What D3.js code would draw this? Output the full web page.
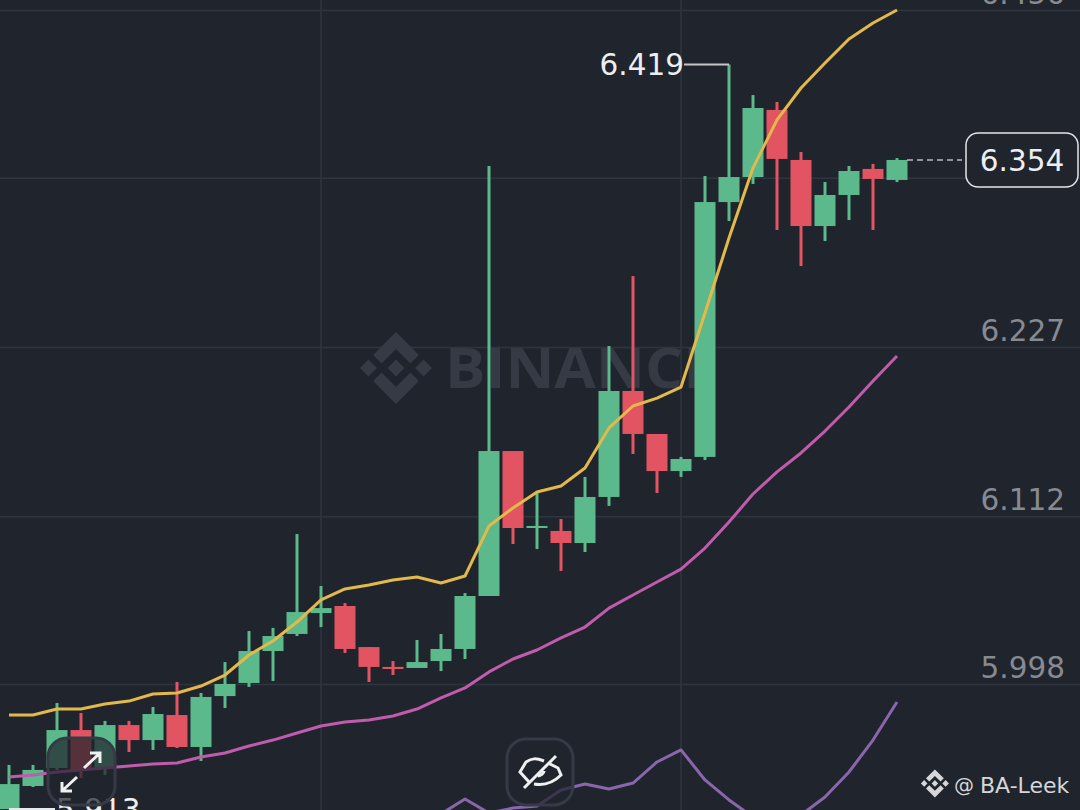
<!DOCTYPE html>
<html>
<head>
<meta charset="utf-8">
<script src="https://cdn.jsdelivr.net/npm/d3@7"></script>
<style>
  html, body { margin: 0; padding: 0; background: #20242c; overflow: hidden; }
  text { font-family: "DejaVu Sans", sans-serif; }
</style>
</head>
<body>
<div id="chart"></div>
<script>
const svgWidth = 1080;
const svgHeight = 810;

// candles, oldest first
const openPrices = [5.9130, 5.9287, 5.9409, 5.9667, 5.9409, 5.9701, 5.9599, 5.9769, 5.9552, 5.9898, 5.9987, 6.0204, 6.0320, 6.0462, 6.0510, 6.0231, 6.0096, 6.0089, 6.0136, 6.0218, 6.0578, 6.1563, 6.1040, 6.1020, 6.0938, 6.1251, 6.1971, 6.1679, 6.1427, 6.1523, 6.3255, 6.3425, 6.3881, 6.3541, 6.3092, 6.3303, 6.3480, 6.3405];
const highPrices = [5.9430, 5.9430, 5.9851, 5.9783, 5.9729, 5.9729, 5.9824, 5.9994, 5.9919, 6.0129, 6.0340, 6.0361, 6.0999, 6.0646, 6.0530, 6.0231, 6.0136, 6.0279, 6.0320, 6.0598, 6.3500, 6.1563, 6.1278, 6.1101, 6.1387, 6.2277, 6.2752, 6.1679, 6.1523, 6.3432, 6.4190, 6.3982, 6.3935, 6.3595, 6.3391, 6.3500, 6.3514, 6.3554];
const lowPrices = [5.9130, 5.9280, 5.9396, 5.9341, 5.9362, 5.9518, 5.9532, 5.9545, 5.9457, 5.9817, 5.9960, 6.0000, 6.0306, 6.0367, 6.0191, 5.9994, 6.0041, 6.0089, 6.0068, 6.0150, 6.0578, 6.0931, 6.0897, 6.0748, 6.0877, 6.1190, 6.1543, 6.1278, 6.1387, 6.1502, 6.3126, 6.3378, 6.3065, 6.2820, 6.2990, 6.3133, 6.3065, 6.3391];
const closePrices = [5.9300, 5.9396, 5.9667, 5.9396, 5.9701, 5.9599, 5.9776, 5.9552, 5.9892, 5.9980, 6.0204, 6.0306, 6.0469, 6.0496, 6.0218, 6.0096, 6.0082, 6.0129, 6.0218, 6.0578, 6.1563, 6.1040, 6.1054, 6.0938, 6.1251, 6.1971, 6.1679, 6.1427, 6.1509, 6.3255, 6.3425, 6.3894, 6.3548, 6.3092, 6.3303, 6.3466, 6.3412, 6.3541];

// moving averages, same length as the candles
const maYellow = [5.9769, 5.9769, 5.9810, 5.9810, 5.9844, 5.9864, 5.9912, 5.9919, 5.9966, 6.0041, 6.0177, 6.0272, 6.0401, 6.0551, 6.0626, 6.0653, 6.0687, 6.0707, 6.0666, 6.0714, 6.1054, 6.1176, 6.1285, 6.1325, 6.1448, 6.1720, 6.1869, 6.1923, 6.1998, 6.2501, 6.3011, 6.3486, 6.3813, 6.4030, 6.4200, 6.4363, 6.4472, 6.4560];
const maPink = [5.9348, 5.9362, 5.9382, 5.9396, 5.9409, 5.9423, 5.9436, 5.9443, 5.9484, 5.9511, 5.9559, 5.9599, 5.9647, 5.9695, 5.9722, 5.9735, 5.9763, 5.9810, 5.9885, 5.9953, 6.0062, 6.0150, 6.0211, 6.0293, 6.0367, 6.0496, 6.0585, 6.0673, 6.0761, 6.0904, 6.1081, 6.1271, 6.1421, 6.1550, 6.1699, 6.1862, 6.2039, 6.2209];
// purple line only comes into view at candle 17
const maPurpleStart = 17;
const maPurple = [5.9001, 5.9097, 5.9199, 5.9103, 5.9137, 5.9151, 5.9260, 5.9300, 5.9267, 5.9307, 5.9450, 5.9532, 5.9328, 5.9192, 5.9076, 5.9022, 5.9090, 5.9212, 5.9382, 5.9599, 5.9858];

const priceTicks = [5.998, 6.112, 6.227, 6.342, 6.456];
const verticalGridIndex = [13, 28];

const peakIndex = 30;
const lowIndex = 0;
const lastPrice = 6.354;
const lastIndex = 37;

const colors = {
  bg: '#20242c',
  grid: '#30343f',
  axisText: '#868a92',
  green: '#5bb98b',
  red: '#e25462',
  yellow: '#e3b94c',
  pink: '#c05bae',
  purple: '#8a66ad',
  white: '#eceef0',
  mark: '#363a44',
};

const svg = d3.select('#chart').append('svg')
  .attr('width', svgWidth).attr('height', svgHeight)
  .style('display', 'block')
  .style('background', colors.bg);

const xScale = d3.scaleLinear().domain([0, 37]).range([9, 897]);
const yScale = d3.scaleLinear().domain([5.998, 6.456]).range([684, 10]);

const binancePath = 'M38.73 53.2L60 31.93L81.28 53.21L93.65 40.84L60 7.19L26.36 40.83Z' +
  'M7.19 60L19.56 47.63L31.93 60L19.56 72.37Z' +
  'M60 47.63L72.37 60L60 72.37L47.63 60Z' +
  'M88.07 60L100.44 47.63L112.81 60L100.44 72.37Z' +
  'M81.28 66.79L60 88.07L38.73 66.8L26.36 79.16L60 112.81L93.65 79.16Z';

// horizontal grid and price labels
const yAxis = d3.axisRight(yScale).tickValues(priceTicks).tickSize(svgWidth).tickFormat(d3.format('.3f'));
const axisG = svg.append('g').call(yAxis);
axisG.select('.domain').remove();
axisG.selectAll('line').attr('stroke', colors.grid).attr('stroke-width', 1.5);
axisG.selectAll('text')
  .attr('x', 1065)
  .attr('y', -7)
  .attr('dy', 0)
  .attr('text-anchor', 'end')
  .attr('fill', colors.axisText)
  .style('font-size', '29.5px')
  .style('font-family', '"DejaVu Sans", sans-serif');

svg.append('g').selectAll('line')
  .data(verticalGridIndex)
  .enter()
  .append('line')
  .attr('x1', d => xScale(d))
  .attr('x2', d => xScale(d))
  .attr('y1', 0)
  .attr('y2', svgHeight)
  .attr('stroke', colors.grid)
  .attr('stroke-width', 1.5);

// watermark
svg.append('path')
  .attr('d', binancePath)
  .attr('transform', 'translate(355.2,327.2) scale(0.68)')
  .attr('fill', colors.mark);
svg.append('text')
  .attr('x', 445)
  .attr('y', 388)
  .attr('fill', colors.mark)
  .attr('textLength', 272)
  .attr('lengthAdjust', 'spacingAndGlyphs')
  .style('font-size', '55px')
  .style('font-weight', 'bold')
  .style('font-family', '"Open Sans", sans-serif')
  .text('BINANCE');

// candles
const candleData = openPrices.map((o, i) => ({
  i: i, open: o, high: highPrices[i], low: lowPrices[i], close: closePrices[i],
}));
const candleColor = d => (d.close >= d.open ? colors.green : colors.red);
const candles = svg.append('g').selectAll('g').data(candleData).enter().append('g');

candles.append('line')
  .attr('x1', d => xScale(d.i))
  .attr('x2', d => xScale(d.i))
  .attr('y1', d => yScale(d.high))
  .attr('y2', d => yScale(d.low))
  .attr('stroke', candleColor)
  .attr('stroke-width', 3);

candles.append('rect')
  .attr('x', d => xScale(d.i) - 10.5)
  .attr('width', 21)
  .attr('y', d => yScale(Math.max(d.open, d.close)))
  .attr('height', d => Math.max(2, Math.abs(yScale(d.open) - yScale(d.close))))
  .attr('fill', candleColor);

// moving average lines
const maLine = d3.line().x(d => xScale(d.i)).y(d => yScale(d.v));
const toPoints = (values, start) => values.map((v, k) => ({ i: k + start, v: v }));

[
  { points: toPoints(maPurple, maPurpleStart), color: colors.purple },
  { points: toPoints(maPink, 0), color: colors.pink },
  { points: toPoints(maYellow, 0), color: colors.yellow },
].forEach(s => {
  svg.append('path')
    .attr('d', maLine(s.points))
    .attr('fill', 'none')
    .attr('stroke', s.color)
    .attr('stroke-width', 3)
    .attr('stroke-linejoin', 'round');
});

// peak label
svg.append('line')
  .attr('x1', 684)
  .attr('x2', xScale(peakIndex))
  .attr('y1', yScale(highPrices[peakIndex]))
  .attr('y2', yScale(highPrices[peakIndex]))
  .attr('stroke', '#c4c6ca')
  .attr('stroke-width', 2);
svg.append('text')
  .attr('x', 684)
  .attr('y', yScale(highPrices[peakIndex]) + 11)
  .attr('text-anchor', 'end')
  .attr('fill', colors.white)
  .style('font-size', '29.5px')
  .text('6.419');

// low label, mostly off the bottom of the picture
svg.append('line')
  .attr('x1', xScale(lowIndex))
  .attr('x2', 55)
  .attr('y1', yScale(lowPrices[lowIndex]))
  .attr('y2', yScale(lowPrices[lowIndex]))
  .attr('stroke', '#e8e9eb')
  .attr('stroke-width', 2);
svg.append('text')
  .attr('x', 56)
  .attr('y', yScale(lowPrices[lowIndex]) + 11)
  .attr('fill', colors.white)
  .style('font-size', '29.5px')
  .text('5.913');

// last price
svg.append('line')
  .attr('x1', xScale(lastIndex) + 10)
  .attr('x2', 962)
  .attr('y1', yScale(lastPrice))
  .attr('y2', yScale(lastPrice))
  .attr('stroke', '#b9bbc0')
  .attr('stroke-width', 1.5)
  .attr('stroke-dasharray', '6 4');
svg.append('rect')
  .attr('x', 966)
  .attr('y', 133)
  .attr('width', 112)
  .attr('height', 54)
  .attr('rx', 12)
  .attr('fill', colors.bg)
  .attr('stroke', '#e3e5e8')
  .attr('stroke-width', 1.5);
svg.append('text')
  .attr('x', 1022)
  .attr('y', 171)
  .attr('text-anchor', 'middle')
  .attr('fill', colors.white)
  .style('font-size', '29.5px')
  .text(d3.format('.3f')(lastPrice));

// expand button
svg.append('rect')
  .attr('x', 48)
  .attr('y', 738)
  .attr('width', 67)
  .attr('height', 67)
  .attr('rx', 19)
  .attr('fill', colors.bg)
  .attr('fill-opacity', 0.72)
  .attr('stroke', '#363a46')
  .attr('stroke-width', 3);
svg.append('path')
  .attr('d', 'M84 768L100 753M90 753H100V763M77 777L62 791M62 782V791H72')
  .attr('fill', 'none')
  .attr('stroke', '#eef0f2')
  .attr('stroke-width', 3);

// hide indicators button
svg.append('rect')
  .attr('x', 507)
  .attr('y', 739)
  .attr('width', 66)
  .attr('height', 66)
  .attr('rx', 19)
  .attr('fill', colors.bg)
  .attr('fill-opacity', 0.72)
  .attr('stroke', '#363a46')
  .attr('stroke-width', 3);
svg.append('path')
  .attr('d', 'M544 761C536 758 532 758 526 762L520 772L530 783M548 763L558 768L561 775C553 783 545 786 534 784M556 756L524 788M538 776C541 776 544 773 544 771')
  .attr('fill', 'none')
  .attr('stroke', '#eef0f2')
  .attr('stroke-width', 3);

// author credit
svg.append('path')
  .attr('d', binancePath)
  .attr('transform', 'translate(919,767.5) scale(0.265)')
  .attr('fill', '#d4d6da');
svg.append('text')
  .attr('x', 954)
  .attr('y', 792)
  .attr('fill', '#d4d6da')
  .style('font-size', '20px')
  .text('@');
svg.append('text')
  .attr('x', 980)
  .attr('y', 793)
  .attr('fill', '#d4d6da')
  .style('font-size', '22px')
  .text('BA-Leek');
</script>
</body>
</html>
